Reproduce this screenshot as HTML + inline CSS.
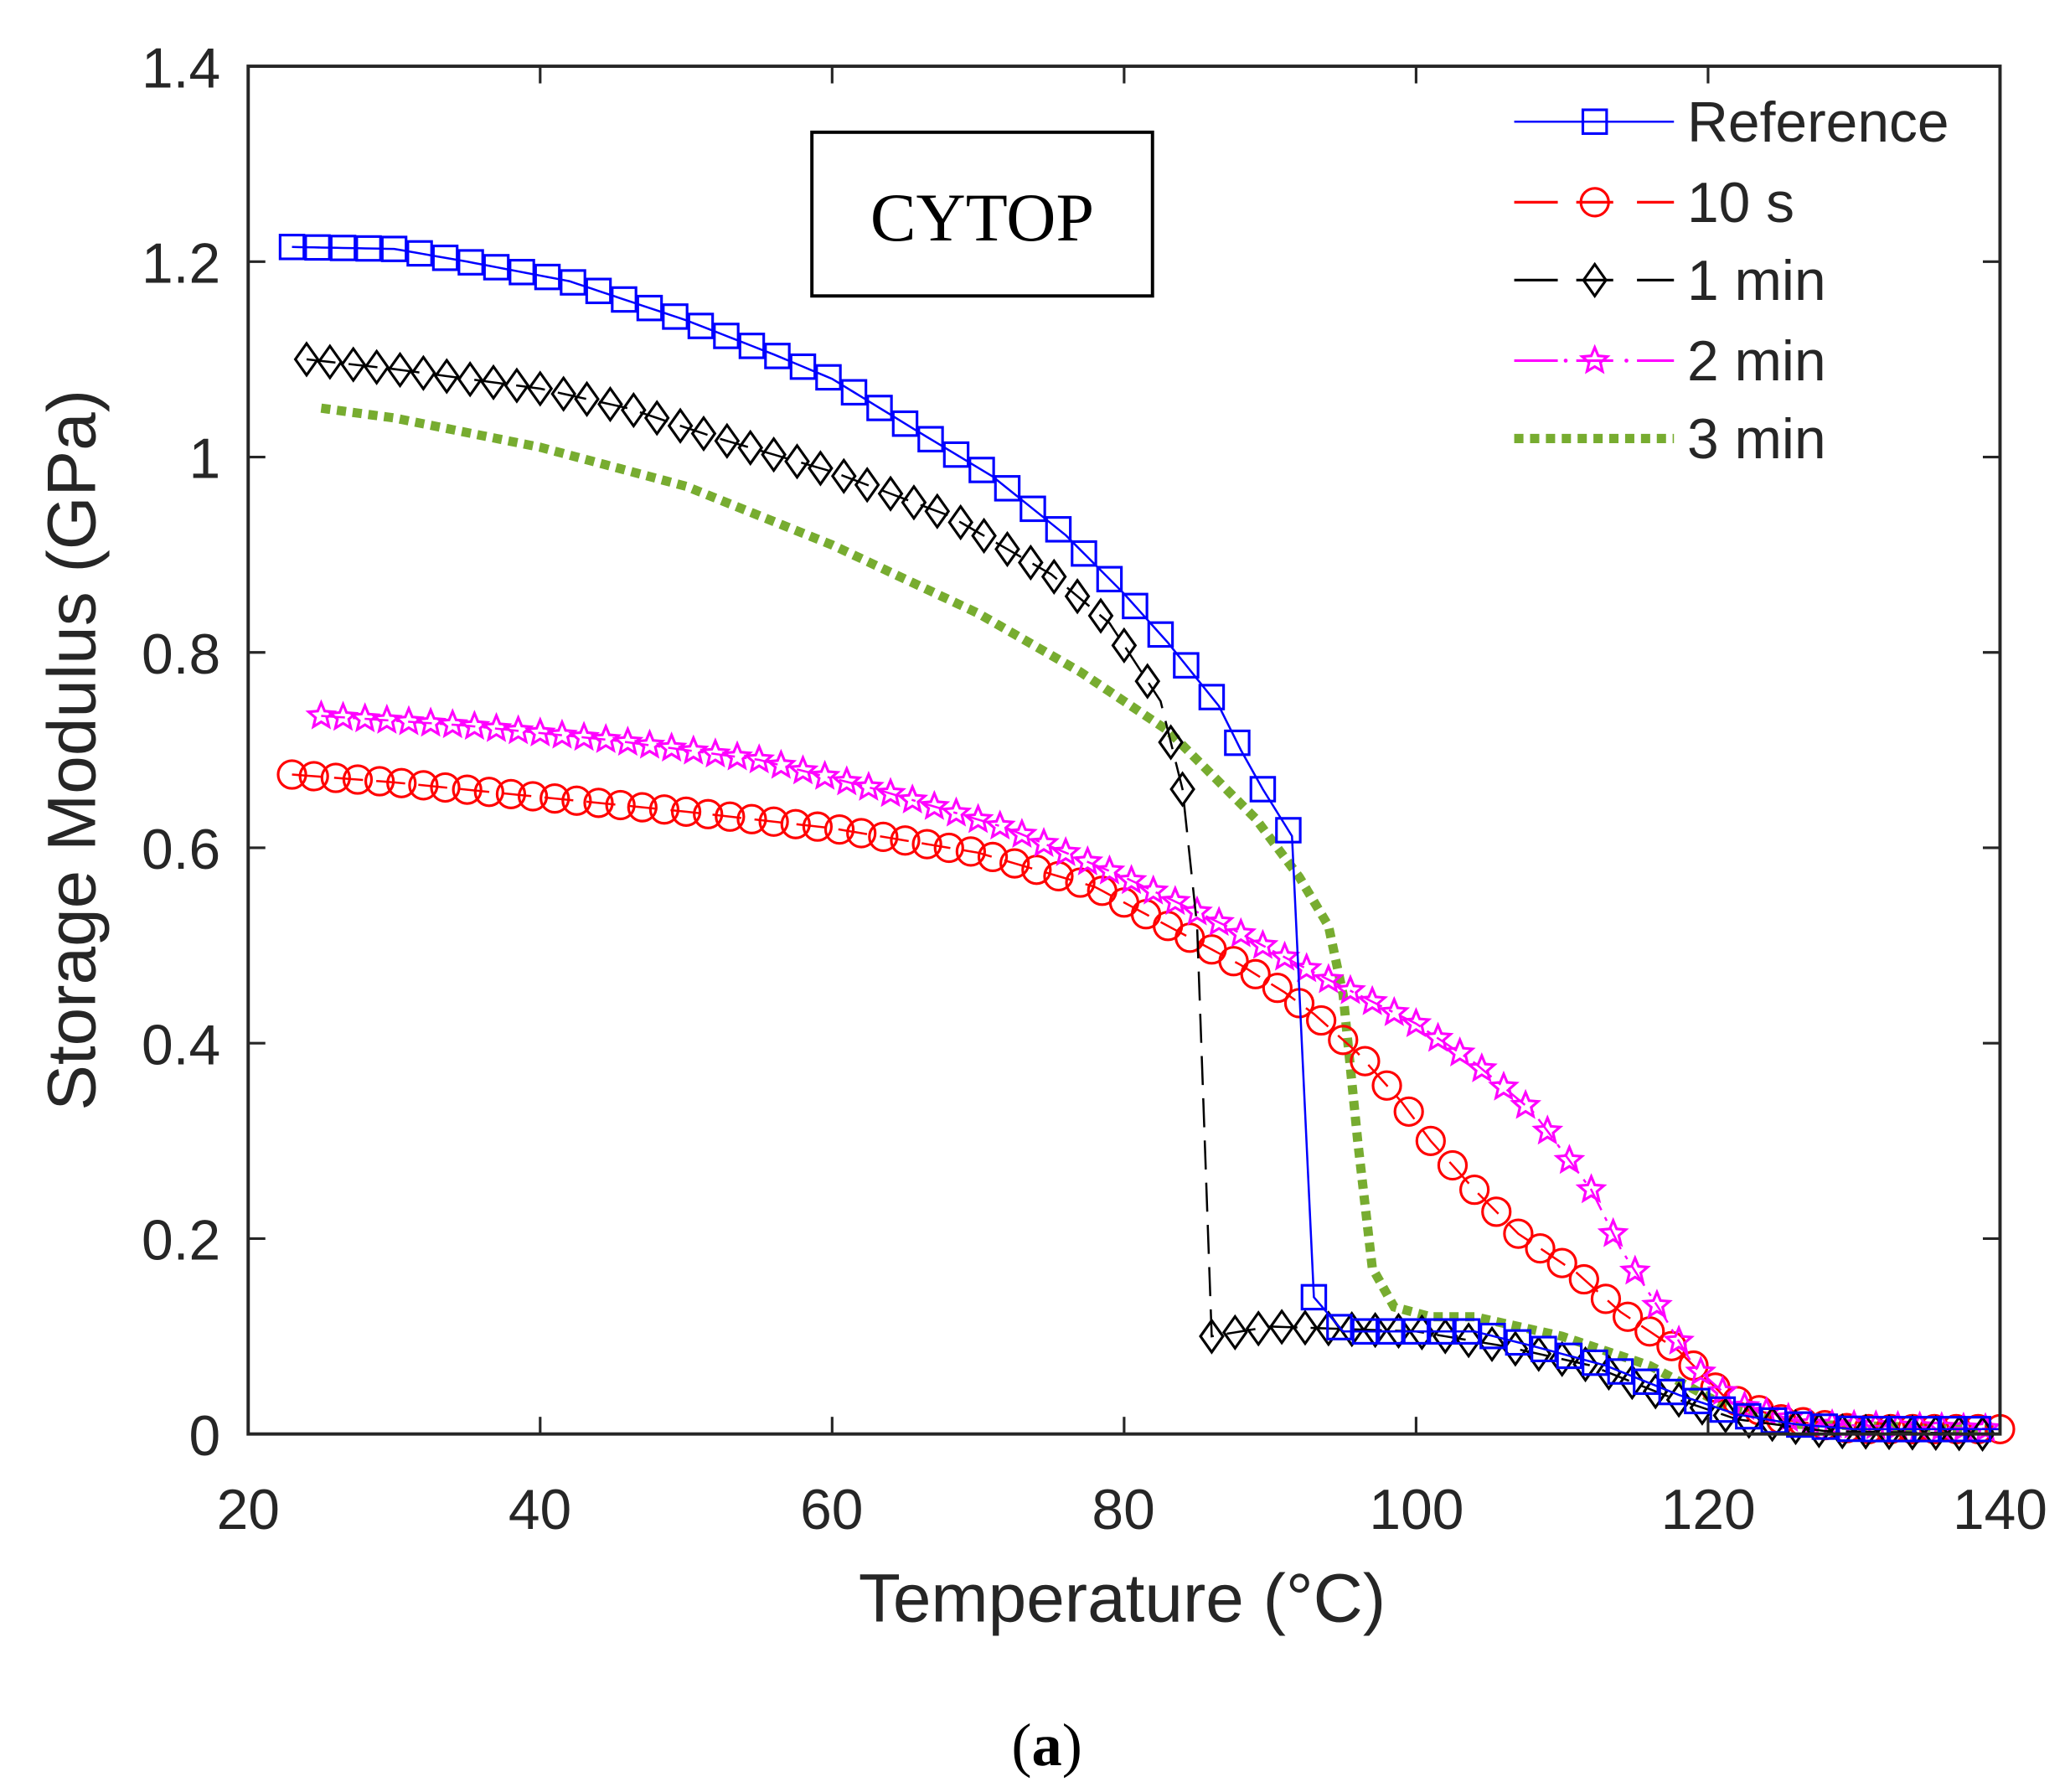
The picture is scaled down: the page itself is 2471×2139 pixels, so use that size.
<!DOCTYPE html>
<html><head><meta charset="utf-8"><style>
html,body{margin:0;padding:0;background:#fff;}
svg{display:block;}
text{font-family:"Liberation Sans",sans-serif;fill:#262626;}
</style></head><body>
<svg id="s" width="2471" height="2139" viewBox="0 0 1568 1357" xmlns="http://www.w3.org/2000/svg">
<rect x="0" y="0" width="1568" height="1357" fill="#fff"/>
<g id="data"></g>
<rect x="188" y="50" width="1327" height="1036" fill="none" stroke="#262626" stroke-width="2.5"/>
<g id="ticks" stroke="#262626" stroke-width="2"></g>
<g font-size="43" text-anchor="end">
<text x="167" y="1102">0</text><text x="167" y="954">0.2</text><text x="167" y="806">0.4</text>
<text x="167" y="658">0.6</text><text x="167" y="510">0.8</text><text x="167" y="362">1</text>
<text x="167" y="214">1.2</text><text x="167" y="66">1.4</text>
</g>
<g font-size="43" text-anchor="middle">
<text x="188" y="1158">20</text><text x="409" y="1158">40</text><text x="630" y="1158">60</text>
<text x="851" y="1158">80</text><text x="1073" y="1158">100</text><text x="1294" y="1158">120</text><text x="1515" y="1158">140</text>
</g>
<text x="850" y="1228" font-size="52" text-anchor="middle">Temperature (°C)</text>
<text transform="translate(72,568) rotate(-90)" font-size="52" text-anchor="middle">Storage Modulus (GPa)</text>
<rect x="615" y="100" width="258" height="124" fill="#fff" stroke="#000" stroke-width="2.5"/>
<text x="744" y="182" font-size="52" text-anchor="middle" style="font-family:'Liberation Serif',serif;fill:#000">CYTOP</text>
<text x="793" y="1337" font-size="46" text-anchor="middle" style="font-family:'Liberation Serif',serif;fill:#000">(<tspan font-weight="bold">a</tspan>)</text>
<g id="legend"></g>
<g font-size="43">
<text x="1278" y="107">Reference</text><text x="1278" y="168">10 s</text><text x="1278" y="227">1 min</text>
<text x="1278" y="288">2 min</text><text x="1278" y="347">3 min</text>
</g>
</svg>
<script>
const NS="http://www.w3.org/2000/svg";
const X=t=>188+(t-20)*1327/120, Y=v=>1086-v*1036/1.4;
function el(p,tag,a){const e=document.createElementNS(NS,tag);for(const k in a)e.setAttribute(k,a[k]);p.appendChild(e);return e;}
const tk=document.getElementById('ticks');
for(let i=1;i<6;i++){const x=X(20+i*20);el(tk,'line',{x1:x,y1:1086,x2:x,y2:1073});el(tk,'line',{x1:x,y1:50,x2:x,y2:63});}
for(let i=1;i<7;i++){const y=Y(i*0.2);el(tk,'line',{x1:188,y1:y,x2:201,y2:y});el(tk,'line',{x1:1515,y1:y,x2:1502,y2:y});}
function interp(k,t){for(let i=0;i<k.length-1;i++){if(t<=k[i+1][0]){const [a,b]=k[i],[c,d]=k[i+1];return b+(d-b)*(t-a)/(c-a);}}return k[k.length-1][1];}
function samp(k,step){const pts=[];for(let t=k[0][0];t<=k[k.length-1][0]+1e-6;t+=step)pts.push([t,interp(k,t)]);
 k.forEach(p=>pts.push(p));pts.sort((a,b)=>a[0]-b[0]);return pts;}
const g=document.getElementById('data');
function marker(p,type,x,y,c){
 if(type==='sq')el(p,'rect',{x:x-9,y:y-9,width:18,height:18,fill:'none',stroke:c,'stroke-width':2});
 else if(type==='ci')el(p,'circle',{cx:x,cy:y,r:10.5,fill:'none',stroke:c,'stroke-width':2});
 else if(type==='di')el(p,'polygon',{points:`${x},${y-12} ${x+8.5},${y} ${x},${y+12} ${x-8.5},${y}`,fill:'none',stroke:c,'stroke-width':2});
 else if(type==='st'){let s='';for(let i=0;i<10;i++){const r=i%2?4.5:10,a=-Math.PI/2+i*Math.PI/5;s+=(x+r*Math.cos(a))+','+(y+r*Math.sin(a))+' ';}el(p,'polygon',{points:s,fill:'none',stroke:c,'stroke-width':2});}
}
function series(k,type,c,dash,mstep,pts){
 const line=samp(k,0.5);
 el(g,'polyline',{points:line.map(p=>X(p[0])+','+Y(p[1])).join(' '),fill:'none',stroke:c,'stroke-width':type==='gr'?7:1.6,'stroke-dasharray':dash});
 if(type!=='gr'){
  const ts=pts||[];if(!pts)for(let t=k[0][0];t<=140.01;t+=mstep)ts.push(t);
  ts.forEach(t=>marker(g,type,X(t),Y(interp(k,t)),c));}
}
const ref=[[23,1.215],[30,1.213],[35,1.2],[42,1.18],[50,1.14],[56,1.105],[60,1.08],[66,1.025],[71,0.98],[76,0.92],[80,0.86],[83,0.81],[86.5,0.745],[88,0.70],[89.5,0.66],[91.5,0.612],[93,0.14],[95,0.105],[104,0.105],[108,0.09],[113,0.07],[118,0.04],[122,0.02],[126,0.01],[130,0.005],[140,0.005]];
const s10=[[23,0.675],[30,0.667],[40,0.652],[50,0.637],[60,0.62],[70,0.595],[78,0.56],[83,0.52],[88,0.48],[91,0.452],[93,0.43],[96,0.39],[99,0.34],[101,0.3],[104,0.25],[107,0.205],[111,0.165],[114,0.125],[118,0.085],[121,0.04],[125,0.015],[130,0.005],[140,0.005]];
const m1=[[24,1.10],[30,1.09],[40,1.07],[46,1.05],[52,1.02],[60,0.985],[68,0.94],[75,0.88],[79,0.83],[82.5,0.75],[84,0.66],[85,0.52],[86,0.1],[90,0.11],[100,0.105],[106,0.09],[112,0.07],[117,0.04],[122,0.015],[128,0.003],[140,0.0]];
const m2=[[25,0.735],[35,0.725],[45,0.71],[55,0.69],[63,0.66],[72,0.62],[80,0.57],[87,0.52],[92,0.48],[96,0.45],[100,0.42],[104,0.38],[108,0.33],[110,0.29],[112,0.25],[114,0.19],[117,0.12],[119,0.07],[122,0.03],[127,0.01],[140,0.005]];
const m3=[[25,1.05],[30,1.04],[40,1.01],[50,0.97],[60,0.91],[70,0.84],[77,0.78],[83,0.72],[89,0.63],[92,0.57],[94,0.52],[95,0.45],[96,0.3],[97,0.17],[98.5,0.13],[101,0.12],[104,0.12],[110,0.10],[116,0.07],[121,0.03],[126,0.01],[140,0.005]];
series(m3,'gr','#77ac30','7 5',0);
series(s10,'ci','#ff0000','22 10',1.5);
series(m2,'st','#ff00ff','18 6 3 6',1.5);
const m1pts=[];for(let t=24;t<=84.1;t+=1.6)m1pts.push(t);m1pts.push(84);for(let t=86;t<=140.01;t+=1.6)m1pts.push(t);
series(m1,'di','#000000','22 10',0,m1pts);
series(ref,'sq','#0000ff','',1.75);
const L=document.getElementById('legend');
const rows=[[92,'sq','#0000ff',''],[153,'ci','#ff0000','d'],[212,'di','#000000','d'],[273,'st','#ff00ff','dd'],[332,'gr','#77ac30','7 5']];
rows.forEach(r=>{
 if(r[1]==='gr'){el(L,'line',{x1:1147,y1:r[0],x2:1268,y2:r[0],stroke:r[2],'stroke-width':7,'stroke-dasharray':r[3]});return;}
 if(r[3]===''){el(L,'line',{x1:1147,y1:r[0],x2:1268,y2:r[0],stroke:r[2],'stroke-width':1.6});}
 else{el(L,'line',{x1:1147,y1:r[0],x2:1180,y2:r[0],stroke:r[2],'stroke-width':2});
  el(L,'line',{x1:1194,y1:r[0],x2:1222,y2:r[0],stroke:r[2],'stroke-width':2});
  el(L,'line',{x1:1240,y1:r[0],x2:1268,y2:r[0],stroke:r[2],'stroke-width':2});
  if(r[3]==='dd'){el(L,'circle',{cx:1186,cy:r[0],r:1.5,fill:r[2]});el(L,'circle',{cx:1232,cy:r[0],r:1.5,fill:r[2]});}}
 marker(L,r[1],1208,r[0],r[2]);
});
</script>
</body></html>
